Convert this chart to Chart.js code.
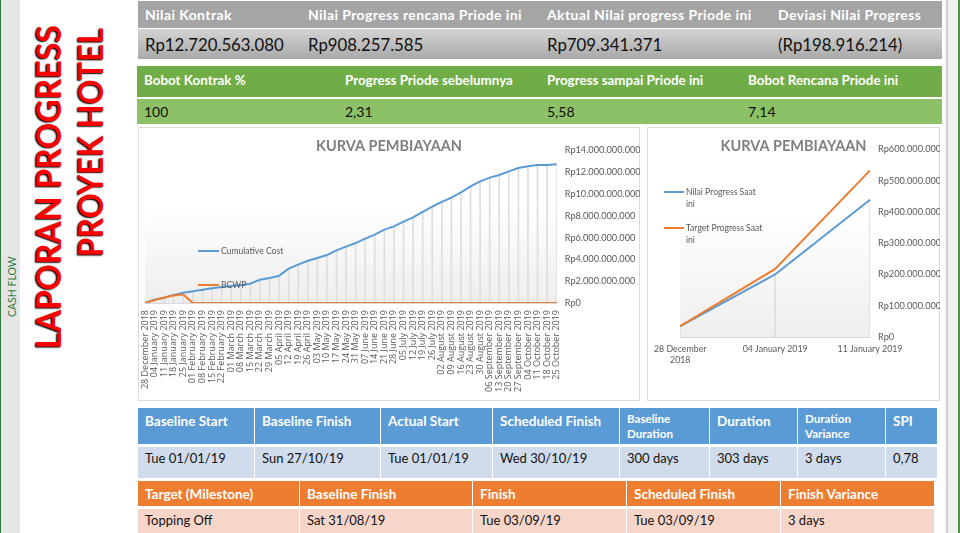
<!DOCTYPE html>
<html>
<head>
<meta charset="utf-8">
<title>Laporan Progress Proyek Hotel</title>
<script src="https://cdn.jsdelivr.net/npm/chart.js@4"></script>
<style>
    html, body { margin: 0; padding: 0; background: #fff; }
    body { width: 960px; height: 533px; position: relative; overflow: hidden; font-family: Lato, sans-serif; color: #222; }
    .abs { position: absolute; }
    .strip { left: 1px; top: 0; width: 19px; height: 533px; background: #e6e6e6; border-left: 1px solid #2f7a3b; margin-left: -1px; }
    .edge-line { left: 946px; top: 0; width: 2px; height: 533px; background: #cfcfcf; }
    .edge-band { left: 948px; top: 0; width: 10px; height: 533px; background: #f1f1f1; }
    .edge-green { left: 958px; top: 0; width: 2px; height: 533px; background: #4f8f46; }
    .rot { transform-origin: 0 0; transform: rotate(-90deg); white-space: nowrap; }
    .sheet-name { left: 6px; top: 317px; font-size: 10.5px; line-height: 12px; color: #2f7a3b; }
    .big { font-size: 34.5px; line-height: 30px; font-weight: 700; color: #ff0000; text-shadow: -1px -1.5px 1.5px #000; }
    .cell { position: absolute; box-sizing: border-box; white-space: nowrap; overflow: hidden; display: flex; align-items: center; }
    .cell small { font-size: 11.6px; display: block; margin-top: 9px; }
    .chart-box { position: absolute; background: #fff; border: 1px solid #dcdcdc; box-sizing: border-box; }
    .chart-box canvas { position: absolute; left: -1px; top: -1px; }
    .legend-item { position: absolute; font-size: 8.6px; line-height: 12px; color: #595959; }
    .legend-line { position: absolute; height: 2px; width: 20px; }
</style>
</head>
<body>
<div class="abs strip"></div>
<div class="abs edge-line"></div>
<div class="abs edge-band"></div>
<div class="abs edge-green"></div>
<div class="abs rot sheet-name">CASH FLOW</div>
<div class="abs rot big" style="left: 32.5px; top: 349px; transform: rotate(-90deg) scaleX(.93);">LAPORAN PROGRESS</div>
<div class="abs rot big" style="left: 74.5px; top: 257px; transform: rotate(-90deg) scaleX(.895);">PROYEK HOTEL</div>
<div id="tables"></div>

<div class="chart-box" style="left: 138px; top: 127px; width: 502px; height: 274px;">
    <canvas id="costChart" width="502" height="274"></canvas>
</div>
<div class="chart-box" style="left: 647px; top: 127px; width: 293px; height: 274px;">
    <canvas id="progressChart" width="293" height="274"></canvas>
</div>
<div id="legends"></div>

<script>
// Chart data
const costDates = [
    '28 December 2018', '04 January 2019', '11 January 2019', '18 January 2019', '25 January 2019',
    '01 February 2019', '08 February 2019', '15 February 2019', '22 February 2019',
    '01 March 2019', '08 March 2019', '15 March 2019', '22 March 2019', '29 March 2019',
    '05 April 2019', '12 April 2019', '19 April 2019', '26 April 2019',
    '03 May 2019', '10 May 2019', '17 May 2019', '24 May 2019', '31 May 2019',
    '07 June 2019', '14 June 2019', '21 June 2019', '28 June 2019',
    '05 July 2019', '12 July 2019', '19 July 2019', '26 July 2019',
    '02 August 2019', '09 August 2019', '16 August 2019', '23 August 2019', '30 August 2019',
    '06 September 2019', '13 September 2019', '20 September 2019', '27 September 2019',
    '04 October 2019', '11 October 2019', '18 October 2019', '25 October 2019'
];
const cumulativeCost = [
    0, 0.30e9, 0.49e9, 0.73e9, 0.95e9, 1.07e9, 1.22e9, 1.35e9, 1.47e9, 1.56e9, 1.65e9,
    1.77e9, 2.14e9, 2.29e9, 2.50e9, 3.15e9, 3.52e9, 3.88e9, 4.13e9, 4.40e9, 4.83e9, 5.17e9,
    5.50e9, 5.90e9, 6.27e9, 6.73e9, 7.03e9, 7.46e9, 7.86e9, 8.35e9, 8.84e9, 9.27e9, 9.66e9,
    10.15e9, 10.70e9, 11.16e9, 11.50e9, 11.74e9, 12.08e9, 12.39e9, 12.54e9, 12.66e9, 12.66e9, 12.72e9
];
const bcwp = [
    0, 0.28e9, 0.50e9, 0.68e9, 0.78e9, 0, 0, 0, 0, 0, 0,
    0, 0, 0, 0, 0, 0, 0, 0, 0, 0, 0,
    0, 0, 0, 0, 0, 0, 0, 0, 0, 0, 0,
    0, 0, 0, 0, 0, 0, 0, 0, 0, 0, 0
];
const costTicks = { min: 0, max: 14e9, step: 2e9 };

const progressDates = [['28 December', '2018'], '04 January 2019', '11 January 2019'];
const nilaiProgress = [35e6, 200e6, 439e6];
const targetProgress = [35e6, 218e6, 533e6];
const progressTicks = { min: 0, max: 600e6, step: 100e6 };

const chartTitle = 'KURVA PEMBIAYAAN';

// Table contents
const grayHead = ['Nilai Kontrak', 'Nilai Progress rencana Priode ini', 'Aktual Nilai progress Priode ini', 'Deviasi Nilai Progress'];
const grayRow = ['Rp12.720.563.080', 'Rp908.257.585', 'Rp709.341.371', '(Rp198.916.214)'];
const greenHead = ['Bobot Kontrak %', 'Progress Priode sebelumnya', 'Progress sampai Priode ini', 'Bobot Rencana Priode ini'];
const greenRow = ['100', '2,31', '5,58', '7,14'];
const blueHead = ['Baseline Start', 'Baseline Finish', 'Actual Start', 'Scheduled Finish', '<small>Baseline<br>Duration</small>', 'Duration', '<small>Duration<br>Variance</small>', 'SPI'];
const blueRow = ['Tue 01/01/19', 'Sun 27/10/19', 'Tue 01/01/19', 'Wed 30/10/19', '300 days', '303 days', '3 days', '0,78'];
const orangeHead = ['Target (Milestone)', 'Baseline Finish', 'Finish', 'Scheduled Finish', 'Finish Variance'];
const orangeRow = ['Topping Off', 'Sat 31/08/19', 'Tue 03/09/19', 'Tue 03/09/19', '3 days'];

// Render one row of table cells
function renderRow(texts, edges, top, height, style) {
    return texts.map((text, i) => `
        <div class="cell" style="left:${edges[i]}px;top:${top}px;width:${edges[i + 1] - edges[i]}px;height:${height}px;${style}">
            <span>${text}</span>
        </div>
    `).join('');
}

function renderTables() {
    const grayEdges = [138, 301, 540, 771, 942];
    const greenEdges = [137, 338, 540, 741, 942];
    const blueEdges = [138, 255, 381, 493, 620, 710, 798, 886, 938];
    const orangeEdges = [138, 300, 473, 627, 781, 935];
    const headText = 'color:#fff;font-weight:700;';
    let html = '';
    html += renderRow(grayHead, grayEdges, 1, 27, `background:#a5a5a5;${headText}font-size:14px;padding-left:7px;letter-spacing:.4px;`);
    html += renderRow(grayRow, grayEdges, 29, 30, 'background:linear-gradient(#d4d4d4,#a9a9a9);color:#111;font-size:16.8px;padding-left:7px;');
    html += renderRow(greenHead, greenEdges, 66, 31, `background:#70ad47;${headText}font-size:13.4px;padding:0 0 4px 7px;`);
    html += renderRow(greenRow, greenEdges, 99, 25, 'background:#8cc168;color:#111;font-size:14px;padding-left:7px;');
    html += renderRow(blueHead, blueEdges, 408, 36, `background:#5b9bd5;${headText}font-size:13.5px;line-height:15px;padding:0 0 9px 7px;border-right:1px solid #fff;`);
    html += renderRow(blueRow, blueEdges, 447, 31, 'background:#d0dcec;color:#111;font-size:13px;padding:0 0 9px 7px;border-right:1px solid #fff;');
    html += renderRow(orangeHead, orangeEdges, 481, 25, `background:#ed7d31;${headText}font-size:13.5px;padding-left:7px;border-right:1px solid #fff;`);
    html += renderRow(orangeRow, orangeEdges, 509, 24, 'background:#f8d5c9;color:#111;font-size:13px;padding:0 0 2px 7px;border-right:1px solid #fff;');
    document.getElementById('tables').innerHTML = html;
}

// Legends sit inside the plot area
function renderLegends() {
    const items = [
        { x: 198, y: 251, w: 21, color: '#5b9bd5', text: 'Cumulative Cost' },
        { x: 198, y: 285, w: 21, color: '#ed7d31', text: 'BCWP' },
        { x: 664, y: 192, w: 20, color: '#5b9bd5', text: 'Nilai Progress Saat<br>ini' },
        { x: 664, y: 228, w: 20, color: '#ed7d31', text: 'Target Progress Saat<br>ini' }
    ];
    document.getElementById('legends').innerHTML = items.map(item => `
        <div class="legend-line" style="left:${item.x}px;top:${item.y - 1}px;width:${item.w}px;background:${item.color};"></div>
        <div class="legend-item" style="left:${item.x + item.w + 2}px;top:${item.y - 6}px;">${item.text}</div>
    `).join('');
}

// Soft gray fade behind the lines
const plotFade = {
    id: 'plotFade',
    beforeDatasetsDraw(chart) {
        const area = chart.chartArea;
        const ctx = chart.ctx;
        const fade = ctx.createLinearGradient(0, area.top, 0, area.bottom);
        fade.addColorStop(0, 'rgba(238,238,238,0)');
        fade.addColorStop(0.35, 'rgba(238,238,238,0)');
        fade.addColorStop(1, '#eeeeee');
        ctx.save();
        ctx.fillStyle = fade;
        ctx.fillRect(area.left, area.top, area.right - area.left, area.bottom - area.top);
        ctx.restore();
    }
};

function formatRupiah(value) {
    return 'Rp' + Number(value).toLocaleString('id-ID');
}

// Shared line chart with drop lines and a right hand axis
function renderCurve(canvasId, cfg) {
    const ctx = document.getElementById(canvasId).getContext('2d');
    const tickColor = '#595959';
    new Chart(ctx, {
        type: 'bar',
        data: {
            labels: cfg.labels,
            datasets: [
                { type: 'line', label: cfg.names[0], data: cfg.series[0], borderColor: '#5b9bd5', borderWidth: 2, pointRadius: 0, order: 1 },
                { type: 'line', label: cfg.names[1], data: cfg.series[1], borderColor: '#ed7d31', borderWidth: 2, pointRadius: 0, order: 0 },
                { type: 'bar', label: 'Drop', data: cfg.drop, backgroundColor: '#dedede', barThickness: 1, order: 5 }
            ]
        },
        plugins: [plotFade],
        options: {
            responsive: false,
            animation: false,
            layout: { padding: 0 },
            plugins: {
                legend: { display: false },
                tooltip: { enabled: false },
                title: {
                    display: true,
                    text: chartTitle,
                    color: '#7f7f7f',
                    font: { family: 'Lato', size: 14.5, weight: 'bold' },
                    padding: { top: 11, bottom: cfg.titleGap }
                }
            },
            scales: {
                x: {
                    offset: false,
                    grid: { display: false, drawTicks: false },
                    border: { color: '#d9d9d9' },
                    ticks: {
                        autoSkip: false,
                        maxRotation: cfg.rotation,
                        minRotation: cfg.rotation,
                        padding: 7,
                        color: tickColor,
                        font: { family: cfg.xFamily, size: cfg.xFont }
                    },
                    afterFit(scale) { scale.height = cfg.xHeight; }
                },
                y: {
                    position: 'right',
                    min: cfg.ticks.min,
                    max: cfg.ticks.max,
                    grid: { display: false, drawTicks: false },
                    border: { display: false },
                    ticks: {
                        stepSize: cfg.ticks.step,
                        padding: 8,
                        color: tickColor,
                        font: { family: 'Lato', size: 9.2 },
                        callback: formatRupiah
                    },
                    afterFit(scale) { scale.width = cfg.yWidth; }
                },
                // empty axis that only reserves the left margin, so the title stays centred
                spacer: {
                    axis: 'y',
                    position: 'left',
                    grid: { display: false },
                    border: { display: false },
                    ticks: { display: false },
                    afterFit(scale) { scale.width = cfg.left; }
                }
            }
        }
    });
}

// Initialize page
function initPage() {
    renderTables();
    renderLegends();
    renderCurve('costChart', {
        labels: costDates,
        names: ['Cumulative Cost', 'BCWP'],
        series: [cumulativeCost, bcwp],
        drop: cumulativeCost,
        ticks: costTicks,
        left: 6.7,
        titleGap: -5,
        rotation: 90,
        xFamily: 'Open Sans',
        xFont: 9,
        xHeight: 98,
        yWidth: 83.3
    });
    renderCurve('progressChart', {
        labels: progressDates,
        names: ['Nilai Progress Saat Ini', 'Target Progress Saat Ini'],
        series: [nilaiProgress, targetProgress],
        drop: nilaiProgress,
        ticks: progressTicks,
        left: 33,
        titleGap: -6,
        rotation: 0,
        xFamily: 'Lato',
        xFont: 8.8,
        xHeight: 64,
        yWidth: 70
    });
}

document.addEventListener('DOMContentLoaded', initPage);
</script>
</body>
</html>
